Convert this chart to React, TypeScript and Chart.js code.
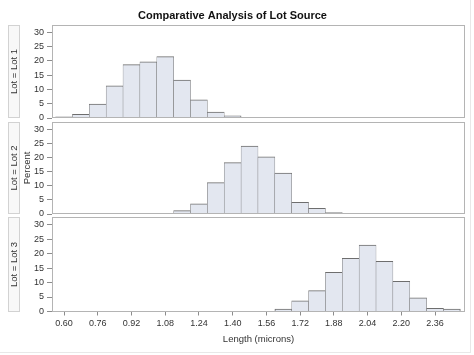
import React, { useEffect, useRef } from "react";
import { Chart, registerables } from "chart.js";

Chart.register(...registerables);

const FONT = "'Liberation Sans', Arial, Helvetica, sans-serif";

const TITLE = "Comparative Analysis of Lot Source";
const X_TITLE = "Length (microns)";
const Y_TITLE = "Percent";
const LOT_LABELS = ["Lot = Lot 1", "Lot = Lot 2", "Lot = Lot 3"];

const X_TICKS = [0.6, 0.76, 0.92, 1.08, 1.24, 1.4, 1.56, 1.72, 1.88, 2.04, 2.2, 2.36];
const Y_TICKS = [0, 5, 10, 15, 20, 25, 30];

// Bin midpoints (microns) and percentages per lot
const lot1Mid = [0.6, 0.68, 0.76, 0.84, 0.92, 1.0, 1.08, 1.16, 1.24, 1.32, 1.4];
const lot1Pct = [0.4, 1.3, 4.9, 11.3, 18.7, 19.7, 21.5, 13.3, 6.4, 2.1, 0.8];

const lot2Mid = [1.0, 1.08, 1.16, 1.24, 1.32, 1.4, 1.48, 1.56, 1.64, 1.72, 1.8, 1.88];
const lot2Pct = [0.2, 0.2, 1.2, 3.6, 11.1, 18.2, 24.1, 20.3, 14.5, 4.1, 2.0, 0.5];

const lot3Mid = [1.64, 1.72, 1.8, 1.88, 1.96, 2.04, 2.12, 2.2, 2.28, 2.36, 2.44];
const lot3Pct = [0.8, 3.7, 7.2, 13.5, 18.3, 22.9, 17.3, 10.4, 4.7, 1.1, 0.8];

const LOTS = [
  { mid: lot1Mid, pct: lot1Pct },
  { mid: lot2Mid, pct: lot2Pct },
  { mid: lot3Mid, pct: lot3Pct },
];

const X_MIN = 0.543;
const X_MAX = 2.502;
const Y_MIN = 0;
const Y_MAX = 32.6;

const BAR_FILL = "#e3e7f0";
const BAR_LINE = "#6e6e6e";
const FRAME = "#b4b4b4";
const TEXT = "#333333";

const panelPlugin = {
  id: "panelFrame",
  afterDraw(chart: any, _args: any, opts: any) {
    const { ctx, chartArea: a } = chart;
    ctx.save();
    const l = Math.round(a.left) + 0.5;
    const r = Math.round(a.right) - 0.5;
    const t = Math.round(a.top) + 0.5;
    const b = Math.round(a.bottom) - 0.5;
    ctx.lineWidth = 1;
    ctx.strokeStyle = FRAME;
    ctx.strokeRect(l, t, r - l, b - t);
    // strip label box
    const sl = opts.stripLeft + 0.5;
    const sw = opts.stripWidth;
    ctx.fillStyle = "#f8f8f8";
    ctx.fillRect(sl, t, sw, b - t);
    ctx.strokeStyle = "#d2d2d2";
    ctx.strokeRect(sl, t, sw, b - t);
    ctx.translate(sl + sw / 2 + 0.5, (t + b) / 2);
    ctx.rotate(-Math.PI / 2);
    ctx.font = `9.5px ${FONT}`;
    ctx.fillStyle = TEXT;
    ctx.textAlign = "center";
    ctx.textBaseline = "middle";
    ctx.fillText(opts.label, 0, 0);
    ctx.restore();
  },
};

function makeConfig(i: number): any {
  const lot = LOTS[i];
  const isFirst = i === 0;
  const isLast = i === 2;
  const layoutPad = isFirst
    ? { left: 0, right: 9, top: 0, bottom: 2 }
    : isLast
    ? { left: 0, right: 9, top: 2, bottom: 3.8 }
    : { left: 0, right: 9, top: 2, bottom: 2 };
  return {
    type: "bar",
    data: {
      datasets: [
        {
          data: lot.mid.map((m, k) => ({ x: m, y: lot.pct[k] })),
          backgroundColor: BAR_FILL,
          borderColor: BAR_LINE,
          borderWidth: (ctx: any) => {
            const n = ctx.dataset.data.length;
            const k = ctx.dataIndex;
            return { top: 1, bottom: 0, left: k === 0 ? 1 : 0.5, right: k === n - 1 ? 1 : 0.5 };
          },
          borderSkipped: "start",
          barPercentage: 1,
          categoryPercentage: 1,
        },
      ],
    },
    options: {
      responsive: false,
      animation: false,
      devicePixelRatio: 1,
      layout: { padding: layoutPad },
      plugins: {
        legend: { display: false },
        tooltip: { enabled: false },
        title: {
          display: isFirst,
          text: TITLE,
          color: "#111111",
          font: { family: FONT, size: 11, weight: "bold" },
          padding: { top: 9, bottom: 2.8 },
        },
        panelFrame: { label: LOT_LABELS[i], stripLeft: 8, stripWidth: 11 },
      },
      scales: {
        x: {
          type: "linear",
          display: isLast,
          offset: false,
          min: X_MIN,
          max: X_MAX,
          afterBuildTicks: (scale: any) => {
            scale.ticks = X_TICKS.map((v) => ({ value: v }));
          },
          afterFit: (scale: any) => {
            scale.paddingLeft = 0;
            scale.paddingRight = 0;
          },
          ticks: {
            autoSkip: false,
            maxRotation: 0,
            padding: 3,
            color: TEXT,
            font: { family: FONT, size: 9 },
            callback: (v: any) => Number(v).toFixed(2),
          },
          grid: {
            display: true,
            offset: false,
            drawOnChartArea: false,
            drawTicks: true,
            tickLength: 4,
            color: "#8c8c8c",
          },
          border: { display: false },
          title: {
            display: true,
            text: X_TITLE,
            color: TEXT,
            font: { family: FONT, size: 9.5 },
            padding: { top: 1, bottom: 6.5 },
          },
        },
        y: {
          type: "linear",
          min: Y_MIN,
          max: Y_MAX,
          afterBuildTicks: (scale: any) => {
            scale.ticks = Y_TICKS.map((v) => ({ value: v }));
          },
          afterFit: (scale: any) => {
            scale.width = 52;
            scale.paddingTop = 0;
            scale.paddingBottom = 0;
          },
          ticks: {
            autoSkip: false,
            padding: 3,
            color: TEXT,
            font: { family: FONT, size: 9 },
          },
          grid: {
            display: true,
            drawOnChartArea: false,
            drawTicks: true,
            tickLength: 5,
            color: "#8c8c8c",
          },
          border: { display: false },
          title: {
            display: i === 1,
            text: Y_TITLE,
            color: TEXT,
            font: { family: FONT, size: 9.5 },
            padding: { top: 21.3, bottom: 0 },
          },
        },
      },
    },
    plugins: [panelPlugin],
  };
}

const PANELS = [
  { top: 0, height: 120 },
  { top: 120, height: 96 },
  { top: 215, height: 140 },
];

function Panel({ index }: { index: number }) {
  const ref = useRef<HTMLCanvasElement | null>(null);
  useEffect(() => {
    if (!ref.current) return;
    const chart = new Chart(ref.current, makeConfig(index));
    return () => chart.destroy();
  }, [index]);
  const p = PANELS[index];
  return (
    <canvas
      ref={ref}
      width={474}
      height={p.height}
      style={{ position: "absolute", left: 0, top: p.top, width: 474, height: p.height }}
    />
  );
}

export default function App() {
  return (
    <div
      style={{
        position: "fixed",
        left: 0,
        top: 0,
        width: 474,
        height: 355,
        background: "#ffffff",
        overflow: "hidden",
      }}
    >
      <div
        style={{
          position: "absolute",
          left: 0,
          top: 0,
          width: 470,
          height: 352,
          borderRight: "1px solid #e8e8e8",
          borderBottom: "1px solid #e8e8e8",
        }}
      />
      {[0, 1, 2].map((i) => (
        <Panel key={i} index={i} />
      ))}
    </div>
  );
}
